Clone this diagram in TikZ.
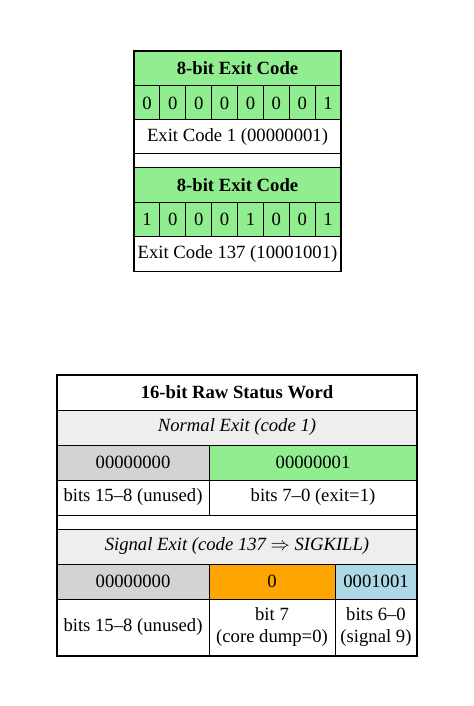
\documentclass[tikz,border=0pt]{standalone}
\usepackage{fontspec}
\setmainfont{Liberation Serif}
\usetikzlibrary{positioning}
\definecolor{exitgreen}{HTML}{90EE90}
\definecolor{unusedgray}{HTML}{D3D3D3}
\definecolor{headgray}{HTML}{EEEEEE}
\definecolor{coreorange}{HTML}{FFA500}
\definecolor{signalblue}{HTML}{ADD8E6}

\begin{document}
\begin{tikzpicture}[
    x=0.75pt, y=-0.75pt,
    cell/.style={draw, line width=0.75pt, outer sep=0pt, inner sep=0pt,
                 align=center, anchor=north west,
                 font=\fontsize{14}{16.5}\selectfont},
    titlecell/.style={cell, minimum height=26.25pt, font=\fontsize{14}{16.5}\selectfont\bfseries},
    bitcell/.style={cell, fill=exitgreen, minimum width=19.406pt, minimum height=25.5pt},
    textcell/.style={cell, minimum height=25.5pt},
    gapcell/.style={cell, minimum height=10pt},
    subcell/.style={cell, fill=headgray, minimum height=26.25pt,
                    font=\fontsize{14}{16.5}\selectfont\itshape},
    frame/.style={draw, line width=1.2pt},
  ]
    \useasboundingbox (0,0) rectangle (474,706);

    % 8-bit exit codes
    \node[titlecell, fill=exitgreen, minimum width=155.25pt] (exitA) at (134,51) {8-bit Exit Code};
    \foreach \b [count=\i] in {0,0,0,0,0,0,0,1}
      \node[bitcell] (bitA\i) at ([xshift={(\i-1)*19.406pt}]exitA.south west) {\b};
    \node[textcell, minimum width=155.25pt] (codeA) at (bitA1.south west) {Exit Code 1 (00000001)};
    \node[gapcell, minimum width=155.25pt] (gapA) at (codeA.south west) {};
    \node[titlecell, fill=exitgreen, minimum width=155.25pt] (exitB) at (gapA.south west) {8-bit Exit Code};
    \foreach \b [count=\i] in {1,0,0,0,1,0,0,1}
      \node[bitcell] (bitB\i) at ([xshift={(\i-1)*19.406pt}]exitB.south west) {\b};
    \node[textcell, minimum width=155.25pt, minimum height=26.25pt] (codeB) at (bitB1.south west) {Exit Code 137 (10001001)};
    \draw[frame] (exitA.north west) rectangle (codeB.south east);

    % 16-bit status word
    \node[titlecell, minimum width=270pt] (word) at (57,375) {16-bit Raw Status Word};
    \node[subcell, minimum width=270pt] (normal) at (word.south west) {Normal Exit (code 1)};
    \node[textcell, fill=unusedgray, minimum width=114pt, minimum height=26.25pt] (highA) at (normal.south west) {00000000};
    \node[textcell, fill=exitgreen, minimum width=156pt, minimum height=26.25pt] (lowA) at (highA.north east) {00000001};
    \node[textcell, minimum width=114pt, minimum height=26.25pt] (highAlbl) at (highA.south west) {bits 15--8 (unused)};
    \node[textcell, minimum width=156pt, minimum height=26.25pt] (lowAlbl) at (highAlbl.north east) {bits 7--0 (exit=1)};
    \node[gapcell, minimum width=270pt, minimum height=10.5pt] (gapW) at (highAlbl.south west) {};
    \node[subcell, minimum width=270pt] (signal) at (gapW.south west) {Signal Exit (code 137 $\Rightarrow$ SIGKILL)};
    \node[textcell, fill=unusedgray, minimum width=114pt, minimum height=26.25pt] (highB) at (signal.south west) {00000000};
    \node[textcell, fill=coreorange, minimum width=94.5pt, minimum height=26.25pt] (core) at (highB.north east) {0};
    \node[textcell, fill=signalblue, minimum width=61.5pt, minimum height=26.25pt] (sig) at (core.north east) {0001001};
    \node[textcell, minimum width=114pt, minimum height=42.75pt] (highBlbl) at (highB.south west) {bits 15--8 (unused)};
    \node[textcell, minimum width=94.5pt, minimum height=42.75pt] (corelbl) at (highBlbl.north east) {bit 7\\(core dump=0)};
    \node[textcell, minimum width=61.5pt, minimum height=42.75pt] (siglbl) at (corelbl.north east) {bits 6--0\\(signal 9)};
    \draw[frame] (word.north west) rectangle (siglbl.south east);
\end{tikzpicture}
\end{document}
